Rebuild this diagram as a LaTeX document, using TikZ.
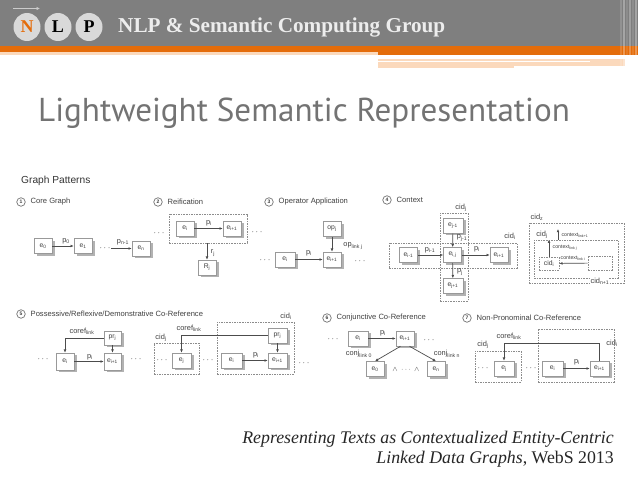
\documentclass[tikz,border=0pt]{standalone}
\usepackage{fontspec}
\setmainfont{Liberation Sans}
\newfontfamily\headfont{Liberation Serif}
\newfontfamily\titlefont{PT Sans}
\usetikzlibrary{arrows.meta,shadows,fit,shapes.geometric}
\definecolor{headgray}{HTML}{7F7F7F}
\definecolor{headorange}{HTML}{E46C0A}
\definecolor{lightorange}{HTML}{FBD9BC}
\definecolor{inkgray}{HTML}{404040}
\begin{document}
\begin{tikzpicture}[x=1pt,y=-1pt,font=\fontsize{6.8}{7}\selectfont,text=inkgray]

    \tikzstyle{ebox}=[draw=black!40, fill=white, line width=0.6pt, minimum width=18pt, minimum height=15pt, inner sep=0pt, drop shadow={shadow xshift=2.5pt, shadow yshift=-2.5pt, fill=black!30, opacity=1}]
    \tikzstyle{dbox}=[draw=black!45, dash pattern=on 1.6pt off 1pt, line width=0.6pt, inner sep=0pt]
    \tikzstyle{lab}=[inner sep=0pt, font=\fontsize{7.4}{8}\selectfont]
    \tikzstyle{tinylab}=[inner sep=0pt, font=\fontsize{5.2}{6}\selectfont]
    \tikzstyle{dotsn}=[inner sep=0pt, text=black!85, font=\fontsize{9.5}{10}\selectfont]
    \tikzstyle{numc}=[circle, draw=black!55, fill=white, line width=0.7pt, minimum size=8.5pt, inner sep=0pt, font=\fontsize{5}{5}\bfseries\selectfont]
    \tikzstyle{pathead}=[anchor=west, inner sep=0pt, font=\fontsize{7.6}{8}\selectfont]
    \tikzstyle{arr}=[draw=black!70, line width=0.7pt, -{Latex[length=3.2pt,width=2.8pt]}]

    \useasboundingbox (0,0) rectangle (638,478);
    \fill[white] (0,0) rectangle (638,478);

    % header
    \fill[headgray] (0,0) rectangle (638,46);
    \fill[headorange] (0,46) rectangle (638,55);
    \fill[lightorange] (0,52) rectangle (378,55.5);
    \fill[lightorange] (378,59.5) rectangle (625,66);
    \fill[lightorange] (378,66) rectangle (514,68);
    \fill[white] (378,61.3) rectangle (590,62.3);
    \foreach \x/\o in {620/0.15, 623/0.3, 626/0.1, 629/0.25, 632/0.12, 635/0.3} {
        \fill[white, opacity=\o] (\x,0) rectangle (\x+1.7,68);
    }
    \foreach \n/\x/\c in {N/27/headorange, L/58/black, P/89/black} {
        \node[ellipse, fill=black!15, minimum width=27pt, minimum height=28pt, inner sep=0pt, text=\c, font=\headfont\bfseries\fontsize{18}{18}\selectfont] (logo\n) at (\x,27) {\n};
    }
    \coordinate (arrl) at (13,8.5);
    \coordinate (arrr) at (40,8.5);
    \draw[white!80!black, line width=0.6pt, -{Latex[length=3.5pt,width=3.5pt]}] (arrl) -- (arrr);
    \node[anchor=west, inner sep=0pt, text=white!93!black, font=\headfont\bfseries\fontsize{21.2}{22}\selectfont] (group) at (118,27) {NLP \& Semantic Computing Group};
    \node[anchor=west, inner sep=0pt, text=black!55, font=\titlefont\fontsize{33.1}{34}\selectfont] (title) at (38,113) {Lightweight Semantic Representation};

    \node[anchor=west, inner sep=0pt, text=black!80, font=\fontsize{10.2}{11}\selectfont] (patterns) at (21,181) {Graph Patterns};

    \foreach \n/\x/\y/\t in {1/21/202/Core Graph, 2/158/202/Reification, 3/269/202/Operator Application, 4/387/200/Context, 6/327/318/Conjunctive Co-Reference, 7/467/318/Non-Pronominal Co-Reference} {
        \node[numc] (num\n) at (\x,\y) {\n};
        \node[pathead] (head\n) at (\x+9.5,\y) {\t};
    }
    \node[numc] (num5) at (21,314) {5};
    \node[pathead] (head5) at (30.5,314) {Possessive/Reflexive/Demonstrative Co-Reference};

    \foreach \x/\y [count=\i] in {105/248, 159/233, 257/232, 265/260, 360/261, 43/359, 136/359, 162/360, 208/360, 304/363, 333/339, 429/340, 483/368, 531/368} {
        \node[dotsn] (dot\i) at (\x,\y) {$\cdots$};
    }

    % core graph
    \node[ebox] (a0) at (43,246) {e\textsubscript{0}};
    \node[ebox] (a1) at (83,246) {e\textsubscript{1}};
    \node[ebox] (an) at (141,248.5) {e\textsubscript{n}};
    \draw[arr] (a0) -- (a1);
    \coordinate (apre) at (111,248.5);
    \draw[arr] (apre) -- (an);
    \node[lab] (ap0) at (66,241) {p\textsubscript{0}};
    \node[lab] (apn) at (123,242) {p\textsubscript{n-1}};

    % reification
    \node[dbox, minimum width=78pt, minimum height=29pt] (rfbox) at (208,228.5) {};
    \node[ebox] (rfi) at (185,228.5) {e\textsubscript{i}};
    \node[ebox] (rfk) at (232,228.5) {e\textsubscript{i+1}};
    \node[ebox] (rfr) at (207,267.5) {R\textsubscript{j}};
    \draw[arr] (rfi) -- (rfk);
    \draw[arr] (rfr |- rfbox.south) -- (rfr);
    \node[lab] (rfp) at (209,223) {p\textsubscript{i}};
    \node[lab] (rfq) at (213,253) {r\textsubscript{j}};

    % operator application
    \node[ebox] (opb) at (332,229) {op\textsubscript{j}};
    \node[ebox, minimum width=20pt] (opi) at (285,259.5) {e\textsubscript{i}};
    \node[ebox] (opk) at (332,259.5) {e\textsubscript{i+1}};
    \draw[arr] (opi) -- (opk);
    \draw[arr] (opb) -- (opk);
    \node[lab] (opp) at (309,253) {p\textsubscript{i}};
    \node[lab] (opl) at (353,246) {op\textsubscript{link j}};

    % context
    \node[dbox, minimum width=28pt, minimum height=88pt] (cxv) at (454,257) {};
    \node[dbox, minimum width=128pt, minimum height=25pt] (cxh) at (453,255.5) {};
    \node[ebox, minimum width=20pt] (cxt) at (453,225.5) {e\textsubscript{j-1}};
    \node[ebox] (cxm) at (452.5,255) {e\textsubscript{i,j}};
    \node[ebox] (cxl) at (408.5,255) {e\textsubscript{i-1}};
    \node[ebox] (cxr) at (499,255) {e\textsubscript{i+1}};
    \node[ebox, minimum width=20pt] (cxb) at (453,286) {e\textsubscript{j+1}};
    \draw[arr] (cxl) -- (cxm);
    \draw[arr] (cxm) -- (cxr);
    \draw[arr] (cxt) -- (cxm);
    \draw[arr] (cxm) -- (cxb);
    \node[lab] (cxcj) at (461,208) {cid\textsubscript{j}};
    \node[lab] (cxci) at (510,236) {cid\textsubscript{i}};
    \node[lab] (cxpl) at (430,250) {p\textsubscript{i-1}};
    \node[lab] (cxpr) at (477,249) {p\textsubscript{i}};
    \node[lab] (cxpt) at (462,238) {p\textsubscript{j-1}};
    \node[lab] (cxpb) at (460,272) {p\textsubscript{j}};

    % nested context
    \node[dbox, minimum width=95pt, minimum height=60pt] (ncz) at (576.5,253) {};
    \node[dbox, minimum width=84pt, minimum height=38pt] (ncj) at (576,259) {};
    \node[dbox, minimum width=20pt, minimum height=13pt] (nci) at (549,263.5) {cid\textsubscript{i}};
    \node[dbox, minimum width=24pt, minimum height=14pt] (nce) at (600,263) {};
    \coordinate (nctop) at (558,229);
    \coordinate (ncx) at (549,250);
    \draw[arr] (ncj.north -| nctop) -- (nctop);
    \draw[arr] (nci.north -| ncx) -- (ncj.north -| ncx);
    \draw[arr] (nce) -- (nci);
    \node[lab] (nclz) at (537,217) {cid\textsubscript{z}};
    \node[lab] (nclj) at (542,235) {cid\textsubscript{j}};
    \node[lab, fill=white] (ncln) at (600,281) {cid\textsubscript{n+1}};
    \node[tinylab] (ncta) at (575,235) {context\textsubscript{link+1}};
    \node[tinylab] (nctb) at (565,248) {context\textsubscript{link j}};
    \node[tinylab] (nctc) at (573,258) {context\textsubscript{link i}};

    % possessive co-reference
    \node[ebox, minimum width=17pt, minimum height=14pt] (prb) at (112.5,338) {pr\textsubscript{j}};
    \node[ebox, minimum height=17pt] (pri) at (65,361.5) {e\textsubscript{i}};
    \node[ebox, minimum width=17pt, minimum height=17pt] (prk) at (112.5,361.5) {e\textsubscript{i+1}};
    \draw[arr] (pri) -- (prk);
    \draw[arr] (prb) -- (prk);
    \draw[arr] (prb.west) -| (pri.north);
    \node[lab] (prl) at (82,331) {coref\textsubscript{link}};
    \node[lab] (prp) at (90,357) {p\textsubscript{i}};

    % across contexts
    \node[dbox, minimum width=45pt, minimum height=31pt] (acj) at (176.5,358.5) {};
    \node[dbox, minimum width=77pt, minimum height=52pt] (aci) at (255.5,348) {};
    \node[ebox, minimum width=19pt] (acej) at (181.5,360.5) {e\textsubscript{j}};
    \node[ebox, minimum width=21pt] (acei) at (231.5,360.5) {e\textsubscript{i}};
    \node[ebox, minimum width=19pt] (acek) at (277.5,360.5) {e\textsubscript{i+1}};
    \node[ebox, minimum width=19pt] (acb) at (277.5,335.5) {pr\textsubscript{j}};
    \draw[arr] (acei) -- (acek);
    \draw[arr] (acb) -- (acek);
    \draw[arr] (acb.west) -| (acej.north);
    \node[lab] (acl) at (189,328) {coref\textsubscript{link}};
    \node[lab] (acp) at (256,355) {p\textsubscript{i}};
    \node[lab] (aclj) at (161,338) {cid\textsubscript{j}};
    \node[lab] (acli) at (286,316) {cid\textsubscript{i}};

    % conjunctive co-reference
    \node[ebox, minimum width=20pt] (cni) at (358,338.5) {e\textsubscript{i}};
    \node[ebox] (cnk) at (405,338.5) {e\textsubscript{i+1}};
    \node[ebox] (cnz) at (375,369) {e\textsubscript{0}};
    \node[ebox] (cnn) at (436,369) {e\textsubscript{n}};
    \draw[arr] (cni) -- (cnk);
    \draw[arr] (cnk.-120) -- (cnz.north);
    \draw[arr] (cnk.-60) -- (cnn.north);
    \node[lab] (cnp) at (383,333) {p\textsubscript{i}};
    \node[lab] (cnlz) at (359,354) {conj\textsubscript{link 0}};
    \node[lab] (cnln) at (447,354) {conj\textsubscript{link n}};
    \node[lab] (cnw) at (406,369.5) {$\wedge$ \,$\cdots$\, $\wedge$};

    % non-pronominal co-reference
    \node[dbox, minimum width=46pt, minimum height=31pt] (npj) at (498,366.5) {};
    \node[dbox, minimum width=76pt, minimum height=53pt] (npi) at (576,355.5) {};
    \node[ebox, minimum width=20pt] (npej) at (504,368.5) {e\textsubscript{j}};
    \node[ebox, minimum width=21pt] (npei) at (552.5,368.5) {e\textsubscript{i}};
    \node[ebox, minimum width=19pt] (npek) at (599.5,368.5) {e\textsubscript{i+1}};
    \coordinate (npc) at (504,343);
    \draw[arr] (npei) -- (npek);
    \draw[arr] (npek.north) |- (npc) -- (npej.north);
    \node[lab] (npl) at (509,336) {coref\textsubscript{link}};
    \node[lab] (npp) at (577,362) {p\textsubscript{i}};
    \node[lab] (nplj) at (483,345) {cid\textsubscript{j}};
    \node[lab] (npli) at (612,343) {cid\textsubscript{i}};

    % source line
    \node[anchor=east, inner sep=0pt, text=black!85, font=\headfont\fontsize{17.8}{20}\selectfont] (srca) at (614,439) {\itshape Representing Texts as Contextualized Entity-Centric};
    \node[anchor=east, inner sep=0pt, text=black!85, font=\headfont\fontsize{17.8}{20}\selectfont] (srcb) at (614,459) {{\itshape Linked Data Graphs}, WebS 2013};

\end{tikzpicture}
\end{document}
